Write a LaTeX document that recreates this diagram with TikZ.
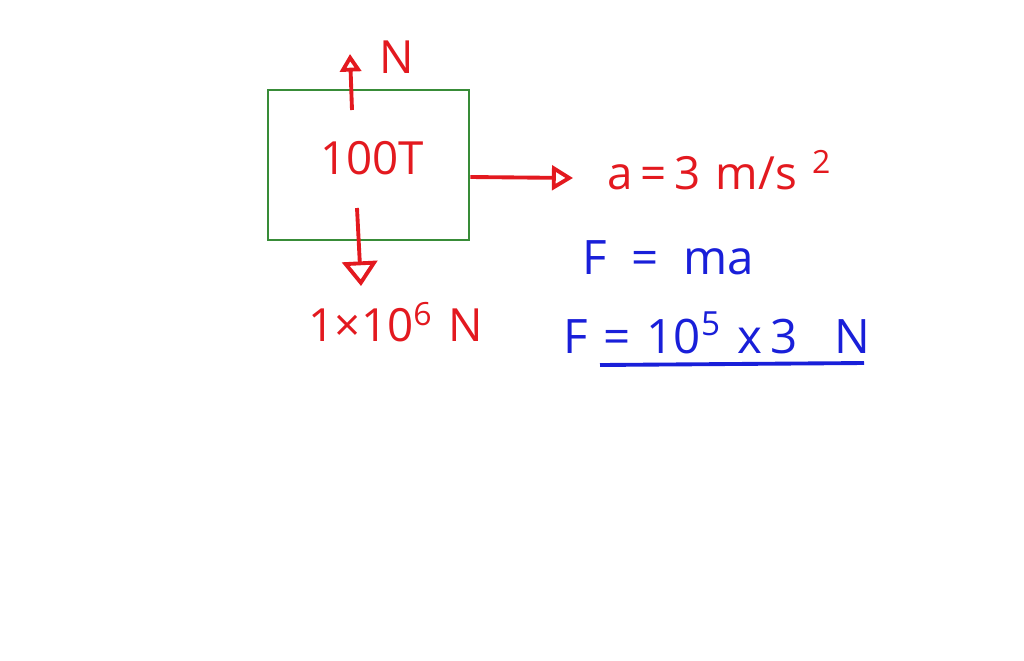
\documentclass[tikz,border=0pt]{standalone}
\usepackage{fontspec}
\setmainfont{Open Sans}
\usepackage{tikz}
\definecolor{penred}{rgb}{0.89,0.10,0.12}
\definecolor{penblue}{rgb}{0.10,0.12,0.85}
\definecolor{boxgreen}{rgb}{0.22,0.55,0.22}
\usetikzlibrary{arrows.meta}
\usetikzlibrary{positioning}

\tikzset{
  redtext/.style={text=penred,font=\fontsize{13}{15}\selectfont,inner sep=0pt},
  bluetext/.style={text=penblue,font=\fontsize{13.5}{15}\selectfont,inner sep=0pt},
  force/.style={penred,line width=1.1pt},
}

\begin{document}
\begin{tikzpicture}[x=0.01cm,y=-0.01cm]

           \useasboundingbox [fill=white] (0,0) rectangle (1024,660);

           % the block
           \node [draw=boxgreen,line width=0.7pt,minimum width=2.01cm,minimum height=1.5cm,inner sep=0pt] (block) at (368.5,165) {};
           \node [redtext] (mass) at (372,158) {100T};

           % normal force
           \coordinate (nfoot) at (352,110);
           \coordinate (ntip) at (350,54);
           \draw [force,-{Triangle[open,width=6pt,length=5pt]}] (nfoot) -- (ntip);
           \node [redtext] (nlabel) at (397,57) {N};

           % weight
           \coordinate (wfoot) at (357,208);
           \coordinate (wtip) at (361,286);
           \draw [force,-{Triangle[open,width=10pt,length=7pt]}] (wfoot) -- (wtip);
           \node [redtext] (wlabel) at (396,322) {1×10\textsuperscript{6}\,\,N};

           % acceleration
           \coordinate (atip) at (573,178);
           \draw [force,-{Triangle[open,width=7pt,length=6pt]}] (block.east |- 0,177) -- (atip);
           \node [redtext] (alabel) at (720,170) {a\,=\,3\,\,m/s\,\,\textsuperscript{2}};

           % working
           \node [bluetext] (newton) at (668,258) {F\ \ =\ \ ma};
           \node [bluetext] (result) at (717,333) {F\,\,=\,\,10\textsuperscript{5}\,\,x\,3\ \ \ N};
           \coordinate (ulstart) at (600,365);
           \coordinate (ulend) at (864,363);
           \draw [penblue,line width=1.1pt] (ulstart) -- (ulend);

        \end{tikzpicture}
\end{document}
